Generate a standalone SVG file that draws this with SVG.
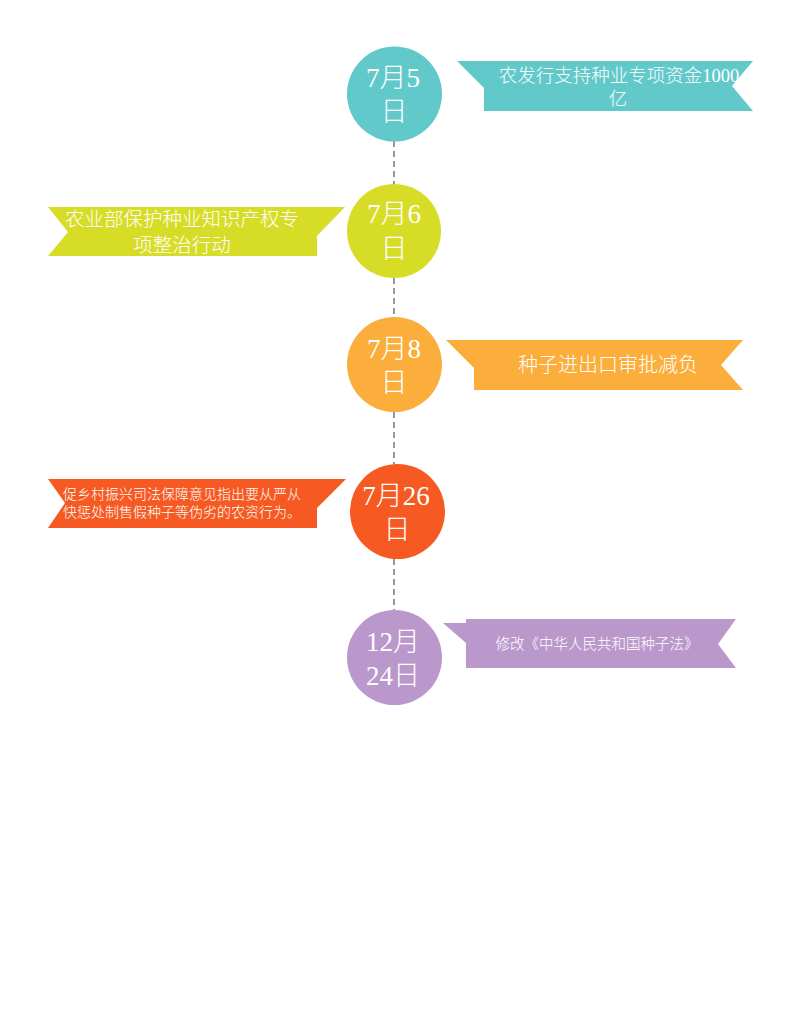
<svg xmlns="http://www.w3.org/2000/svg" width="786" height="1011" viewBox="0 0 786 1011">
<style>
.t{font-family:"Liberation Serif","Noto Sans CJK SC",serif;fill:#fff;text-anchor:middle;font-weight:300}
.c{font-size:27px}
.dash{stroke:#999;stroke-width:2;stroke-dasharray:6 4;fill:none}
</style>
<rect width="786" height="1011" fill="#fff"/>
<g id="connectors">
<line class="dash" x1="394" y1="141" x2="394" y2="184"/>
<line class="dash" x1="394" y1="278" x2="394" y2="317"/>
<line class="dash" x1="394" y1="412" x2="394" y2="464"/>
<line class="dash" x1="394" y1="559" x2="394" y2="610"/>
</g>
<g id="node1">
<circle cx="394.5" cy="94" r="47.5" fill="#62C9CB"/>
<text class="t c" x="393" y="87">7月5</text>
<text class="t c" x="394" y="121">日</text>
</g>
<g id="label1">
<polygon points="457,61 753,61 732,86 753,111 484,111 484,88" fill="#62C9CB"/>
<text class="t" font-size="18.5" x="619" y="82">农发行支持种业专项资金1000</text>
<text class="t" font-size="18.5" x="618" y="105">亿</text>
</g>
<g id="node2">
<circle cx="394" cy="231" r="47" fill="#D7DD27"/>
<text class="t c" x="394" y="223">7月6</text>
<text class="t c" x="394" y="258">日</text>
</g>
<g id="label2">
<polygon points="48,207 345,207 317,236 317,256 48,256 68,232" fill="#D7DD27"/>
<text class="t" font-size="19.5" x="182" y="226">农业部保护种业知识产权专</text>
<text class="t" font-size="19.5" x="182" y="252">项整治行动</text>
</g>
<g id="node3">
<circle cx="394.5" cy="364.5" r="47.5" fill="#FBAE3B"/>
<text class="t c" x="394" y="358">7月8</text>
<text class="t c" x="394" y="392">日</text>
</g>
<g id="label3">
<polygon points="446,340 743,340 721,365 743,390 474,390 474,368" fill="#FBAE3B"/>
<text class="t" font-size="20" x="608" y="372">种子进出口审批减负</text>
</g>
<g id="node4">
<circle cx="397.5" cy="511.5" r="47.5" fill="#F65A22"/>
<text class="t c" x="396" y="505">7月26</text>
<text class="t c" x="397" y="539">日</text>
</g>
<g id="label4">
<polygon points="48,479 346,479 317,508 317,528 48,528 65,503" fill="#F65A22"/>
<text class="t" font-size="14" x="63" y="499" style="text-anchor:start">促乡村振兴司法保障意见指出要从严从</text>
<text class="t" font-size="14" x="63" y="517" style="text-anchor:start">快惩处制售假种子等伪劣的农资行为。</text>
</g>
<g id="node5">
<circle cx="394.5" cy="657.5" r="47.5" fill="#BB98CB"/>
<text class="t c" x="393" y="651">12月</text>
<text class="t c" x="393" y="685">24日</text>
</g>
<g id="label5">
<polygon points="443,623 466,623 466,619 736,619 718,644 736,668 466,668 466,643" fill="#BB98CB"/>
<text class="t" font-size="14.5" x="597" y="649">修改《中华人民共和国种子法》</text>
</g>
</svg>
